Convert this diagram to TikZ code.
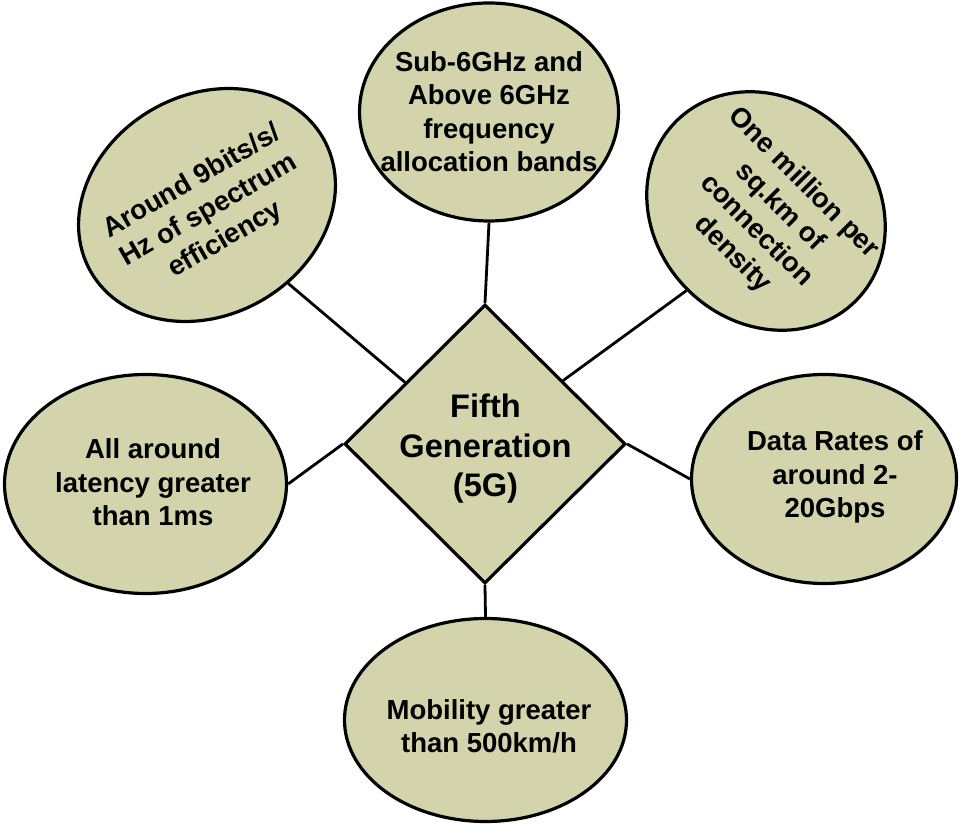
\documentclass[tikz,border=0pt]{standalone}
\usepackage{fontspec}
\setmainfont{Liberation Sans}
\usetikzlibrary{shapes.geometric,calc,backgrounds}
\definecolor{fillc}{RGB}{212,212,172}
\begin{document}
\begin{tikzpicture}[x=1pt,y=1pt,
  ell/.style={ellipse, draw=black, line width=3.2pt, fill=fillc, inner sep=0pt},
  dia/.style={diamond, draw=black, line width=3.2pt, fill=fillc, inner sep=0pt},
  txt/.style={align=center, font=\fontsize{27.5}{33.5}\selectfont\bfseries, inner sep=0pt},
  bigtxt/.style={align=center, font=\fontsize{32.6}{39.5}\selectfont\bfseries, inner sep=0pt},
  conn/.style={draw=black, line width=2.8pt}]
\useasboundingbox (0,0) rectangle (961,825);
% centre
\node[dia, minimum width=281pt, minimum height=279pt] (d) at (485,381) {};
\node[bigtxt] (dt) at (485.5,376) {Fifth\\Generation\\(5G)};
% ellipses
\node[ell, minimum width=259pt, minimum height=218pt] (top) at (489,713) {};
\node[txt] (topt) at (489,713.5) {Sub-6GHz and\\Above 6GHz\\frequency\\allocation bands};
\node[ell, rotate=30, minimum width=268pt, minimum height=220pt] (ul) at (207,620) {};
\node[txt, rotate=30] (ult) at (209,614) {Around 9bits/s/\\Hz of spectrum\\efficiency};
\node[ell, rotate=-45, minimum width=254pt, minimum height=222pt] (ur) at (766,614) {};
\node[txt, rotate=-45] (urt) at (768,606) {One million per\\sq.km of\\connection\\density};
\node[ell, minimum width=282pt, minimum height=219pt] (lft) at (145.5,341) {};
\node[txt] (lftt) at (153,342.5) {All around\\latency greater\\than 1ms};
\node[ell, minimum width=265pt, minimum height=209pt] (rgt) at (824,346) {};
\node[txt] (rgtt) at (835,348) {Data Rates of\\around 2-\\20Gbps};
\node[ell, minimum width=282pt, minimum height=203pt] (bot) at (485.5,105) {};
\node[txt] (bott) at (489,98.5) {Mobility greater\\than 500km/h};
% connectors
\coordinate (dul) at ($(d.west)!0.437!(d.north)$);
\coordinate (dur) at ($(d.north)!0.55!(d.east)$);
\begin{scope}[on background layer]
\draw[conn] (top.south) -- (d.north);
\draw[conn] (ul.-74) -- (dul);
\draw[conn] (ur.south) -- (dur);
\draw[conn] (lft.east) -- (d.west);
\draw[conn] (d.east) -- (rgt.west);
\draw[conn] (d.south) -- (bot.north);
\end{scope}
\end{tikzpicture}
\end{document}
